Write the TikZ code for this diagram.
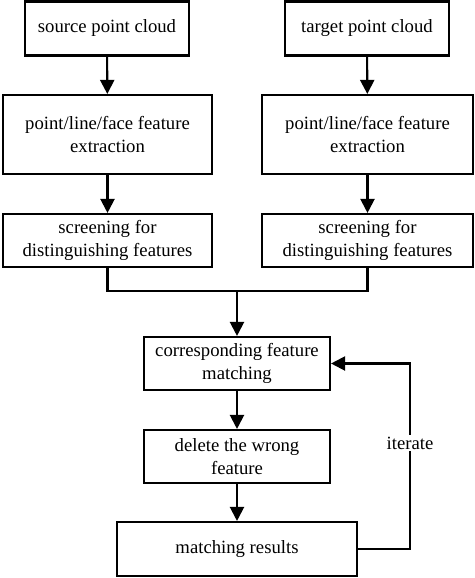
\documentclass[tikz,border=0pt]{standalone}
\usepackage{fontspec}
\setmainfont{Liberation Serif}
\usetikzlibrary{arrows.meta,calc}
\begin{document}
\begin{tikzpicture}[x=1pt,y=1pt,
  box/.style={draw=black,line width=2.1pt,align=center,inner sep=0pt,
    font=\fontsize{18.7}{22.5}\selectfont},
  arr/.style={line width=2.1pt,-{Triangle[length=14pt,width=14pt]}},
  ln/.style={line width=2.1pt}]
\useasboundingbox (0,0) rectangle (474,-578);
\node[box,minimum width=164,minimum height=54] (src) at (107,-28.5) {source point cloud};
\node[box,minimum width=164,minimum height=54] (tgt) at (367,-28.5) {target point cloud};
\node[box,minimum width=209,minimum height=79] (ext1) at (107.5,-134.5) {point/line/face feature\\extraction};
\node[box,minimum width=211,minimum height=79] (ext2) at (367.5,-134.5) {point/line/face feature\\extraction};
\node[box,minimum width=209,minimum height=53] (scr1) at (107.5,-240.5) {screening for\\distinguishing features};
\node[box,minimum width=211,minimum height=53] (scr2) at (367.5,-240.5) {screening for\\distinguishing features};
\node[box,minimum width=186,minimum height=53] (corr) at (237,-363.5) {corresponding feature\\matching};
\node[box,minimum width=186,minimum height=53] (del) at (237,-456.5) {delete the wrong\\feature};
\node[box,minimum width=240,minimum height=54] (res) at (237,-549) {matching results};
\coordinate (j) at (237,-291);
\node[fill=white,inner sep=2pt,font=\fontsize{18.7}{22.5}\selectfont] (it) at (410,-443) {iterate};
\draw[arr] (src) -- (ext1);
\draw[arr] (tgt) -- (ext2);
\draw[arr] (ext1) -- (scr1);
\draw[arr] (ext2) -- (scr2);
\draw[ln] (scr1.south) -- (scr1.south |- j) -- (scr2.south |- j) -- (scr2.south);
\draw[arr] (j) -- (corr.north);
\draw[arr] (corr) -- (del);
\draw[arr] (del) -- (res);
\draw[ln] (res.east) -| (it.south);
\draw[arr] (it.north) |- (corr.east);
\end{tikzpicture}
\end{document}
